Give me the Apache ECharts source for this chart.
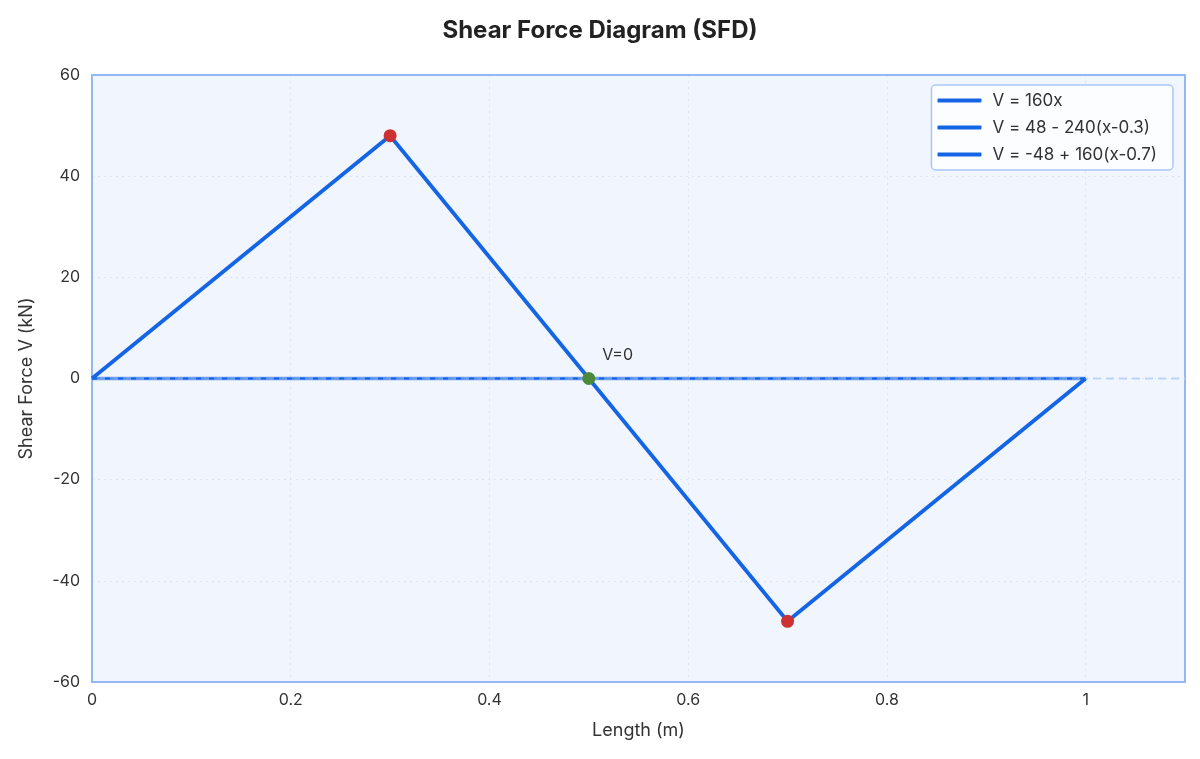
<!DOCTYPE html>
<html>
<head>
<meta charset="utf-8">
<script src="https://cdn.jsdelivr.net/npm/echarts@6/dist/echarts.min.js"></script>
<style>html,body{margin:0;padding:0;background:#fff}#c{width:1200px;height:759px}</style>
</head>
<body>
<div id="c"></div>
<script>
const seriesNames = ['V = 160x', 'V = 48 - 240(x-0.3)', 'V = -48 + 160(x-0.7)'];
const seg1 = [[0, 0], [0.3, 48]];
const seg2 = [[0.3, 48], [0.7, -48]];
const seg3 = [[0.7, -48], [1, 0]];
const peaks = [[0.3, 48], [0.7, -48]];
const zeroCross = [[0.5, 0]];
const beam = [[0, 0], [1, 0]];
const xTicks = [0, 0.2, 0.4, 0.6, 0.8, 1];
const yTicks = [-60, -40, -20, 0, 20, 40, 60];

const FONT = 'Inter, Lato, sans-serif';
const BLUE = '#1464e6';
const BORDER = '#93b8f5';
const chart = echarts.init(document.getElementById('c'));
const lineSeries = [seg1, seg2, seg3].map((d, i) => ({
  name: seriesNames[i], type: 'line', data: d, symbol: 'none', z: 5,
  lineStyle: { color: BLUE, width: 3.8 }, itemStyle: { color: BLUE }
}));
const splitStyle = { show: true, lineStyle: { color: '#dde6f3', type: [2, 4], width: 1 } };
chart.setOption({
  animation: false,
  title: { text: 'Shear Force Diagram (SFD)', left: 'center', top: 14,
    textStyle: { fontFamily: FONT, fontSize: 24, fontWeight: 'bold', color: '#222' } },
  legend: {
    data: seriesNames, right: 27, top: 85, orient: 'vertical', itemGap: 10,
    itemWidth: 44, itemHeight: 4, icon: 'roundRect',
    backgroundColor: 'rgba(255,255,255,0.8)', borderColor: '#a9c8f8', borderWidth: 1.5, borderRadius: 4,
    padding: [7, 16, 7, 6],
    textStyle: { fontFamily: FONT, fontSize: 17, color: '#333', padding: [0, 0, 0, 6] }
  },
  grid: { left: 92, right: 15, top: 75, bottom: 77, show: true, backgroundColor: '#f1f6fe', borderWidth: 0 },
  xAxis: [{
    type: 'value', min: 0, max: 1.1, interval: 0.2,
    name: 'Length (m)', nameLocation: 'middle', nameGap: 40,
    nameTextStyle: { fontFamily: FONT, fontSize: 18, color: '#333' },
    axisLine: { show: true, onZero: false, lineStyle: { color: BORDER, width: 2 } }, axisTick: { show: false },
    axisLabel: { fontFamily: FONT, fontSize: 16, color: '#333', margin: 10,
      formatter: v => (xTicks.some(t => Math.abs(t - v) < 1e-9) ? String(+v.toFixed(1)) : '') },
    splitLine: splitStyle
  }, {
    type: 'value', min: 0, max: 1.1, position: 'top',
    axisLine: { show: true, onZero: false, lineStyle: { color: BORDER, width: 2 } },
    axisTick: { show: false }, axisLabel: { show: false }, splitLine: { show: false }
  }],
  yAxis: [{
    type: 'value', min: -60, max: 60, interval: 20,
    name: 'Shear Force V (kN)', nameLocation: 'middle', nameGap: 56,
    nameTextStyle: { fontFamily: FONT, fontSize: 18, color: '#333' },
    axisLine: { show: true, onZero: false, lineStyle: { color: BORDER, width: 2 } }, axisTick: { show: false },
    axisLabel: { fontFamily: FONT, fontSize: 16, color: '#333', margin: 12 },
    splitLine: splitStyle
  }, {
    type: 'value', min: -60, max: 60, position: 'right',
    axisLine: { show: true, onZero: false, lineStyle: { color: BORDER, width: 2 } },
    axisTick: { show: false }, axisLabel: { show: false }, splitLine: { show: false }
  }],
  series: [
    {
      name: 'ref', type: 'line', data: [[0, 0], [1.1, 0]], symbol: 'none', z: 1, silent: true,
      lineStyle: { color: '#bcd3f7', width: 2, type: [8, 5] }
    },
    {
      name: 'beam', type: 'line', data: beam, symbol: 'none', z: 2, silent: true,
      lineStyle: { color: 'rgba(20,100,230,0.6)', width: 3.5 }
    },
    {
      name: 'beamDash', type: 'line', data: beam, symbol: 'none', z: 3, silent: true,
      lineStyle: { color: '#1464e6', width: 2, type: [5, 8] }
    },
    ...lineSeries,
    {
      name: 'peaks', type: 'scatter', data: peaks, symbolSize: 13, z: 10,
      itemStyle: { color: '#cd3232', opacity: 1 }
    },
    {
      name: 'zero', type: 'scatter', data: zeroCross, symbolSize: 13, z: 10,
      itemStyle: { color: '#4a8a3a', opacity: 1 },
      label: { show: true, formatter: 'V=0', position: 'right', offset: [2, -23],
        fontFamily: FONT, fontSize: 16, color: '#333', opacity: 1 }
    }
  ]
});
</script>
</body>
</html>
